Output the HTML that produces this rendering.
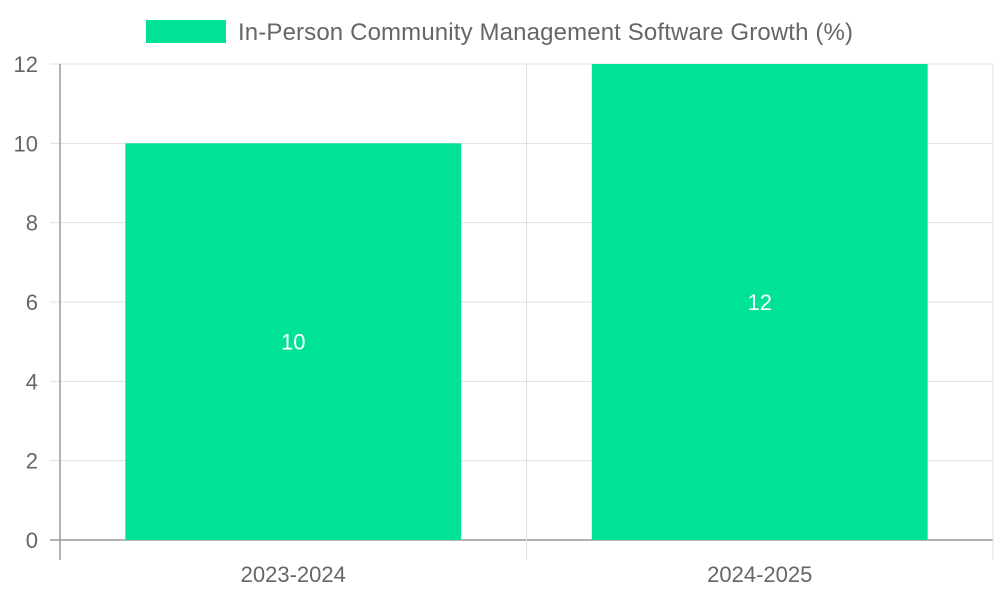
<!DOCTYPE html>
<html><head><meta charset="utf-8"><style>
html,body{margin:0;padding:0;background:#fff;}
svg{display:block;font-family:"Liberation Sans",sans-serif;}
</style></head><body>
<svg id="chart" width="1000" height="600"></svg>
<script>
const categories = ["2023-2024", "2024-2025"];
const growthValues = [10, 12];
const yTicks = [0, 2, 4, 6, 8, 10, 12];
const legendLabel = "In-Person Community Management Software Growth (%)";

const NS = "http://www.w3.org/2000/svg";
const svg = document.getElementById("chart");
const L = 60, R = 993, T = 64, B = 540, yMax = 12;
const y = v => B - (v / yMax) * (B - T);
const catW = (R - L) / categories.length;
const xc = i => L + catW * (i + 0.5);
function mk(tag, attrs, parent) {
  const e = document.createElementNS(NS, tag);
  for (const k in attrs) e.setAttribute(k, attrs[k]);
  (parent || svg).appendChild(e);
  return e;
}
// grid
const grid = mk("g", {});


yTicks.forEach(t => {
  const l = mk("line", {x1: L - 10, x2: R, y1: y(t), y2: y(t), stroke: t === 0 ? "#999" : "#e0e0e0", "stroke-width": t === 0 ? 1.5 : 1}, grid);
  
  
  const tx = mk("text", {x: L - 22, y: y(t) + 8, "text-anchor": "end", "font-size": 22, fill: "#666"}, grid);
  tx.textContent = t;
  
  
});
for (let i = 0; i <= categories.length; i++) {
  const x = L + catW * i;
  const l = mk("line", {x1: x, x2: x, y1: T, y2: B + 20, stroke: i === 0 ? "#999" : "#e0e0e0", "stroke-width": i === 0 ? 1.5 : 1}, grid);
  
  
}
// bars
const barW = catW * 0.72;
categories.forEach((c, i) => {
  const r = mk("rect", {x: xc(i) - barW / 2, y: y(growthValues[i]), width: barW, height: B - y(growthValues[i]), fill: "#00e396"});
  
  
  const v = mk("text", {x: xc(i), y: (y(growthValues[i]) + B) / 2 + 8, "text-anchor": "middle", "font-size": 22, fill: "#fff"});
  v.textContent = growthValues[i];
  
  
  const xl = mk("text", {x: xc(i), y: 582, "text-anchor": "middle", "font-size": 22, fill: "#666"});
  xl.textContent = c;
  
  
});
// legend
const lg = mk("g", {});


mk("rect", {x: 146, y: 20, width: 80, height: 23, fill: "#00e396"}, lg);
const lt = mk("text", {x: 238, y: 40, "font-size": 24, fill: "#666", textLength: 615}, lg);
lt.textContent = legendLabel;
</script>
</body></html>
